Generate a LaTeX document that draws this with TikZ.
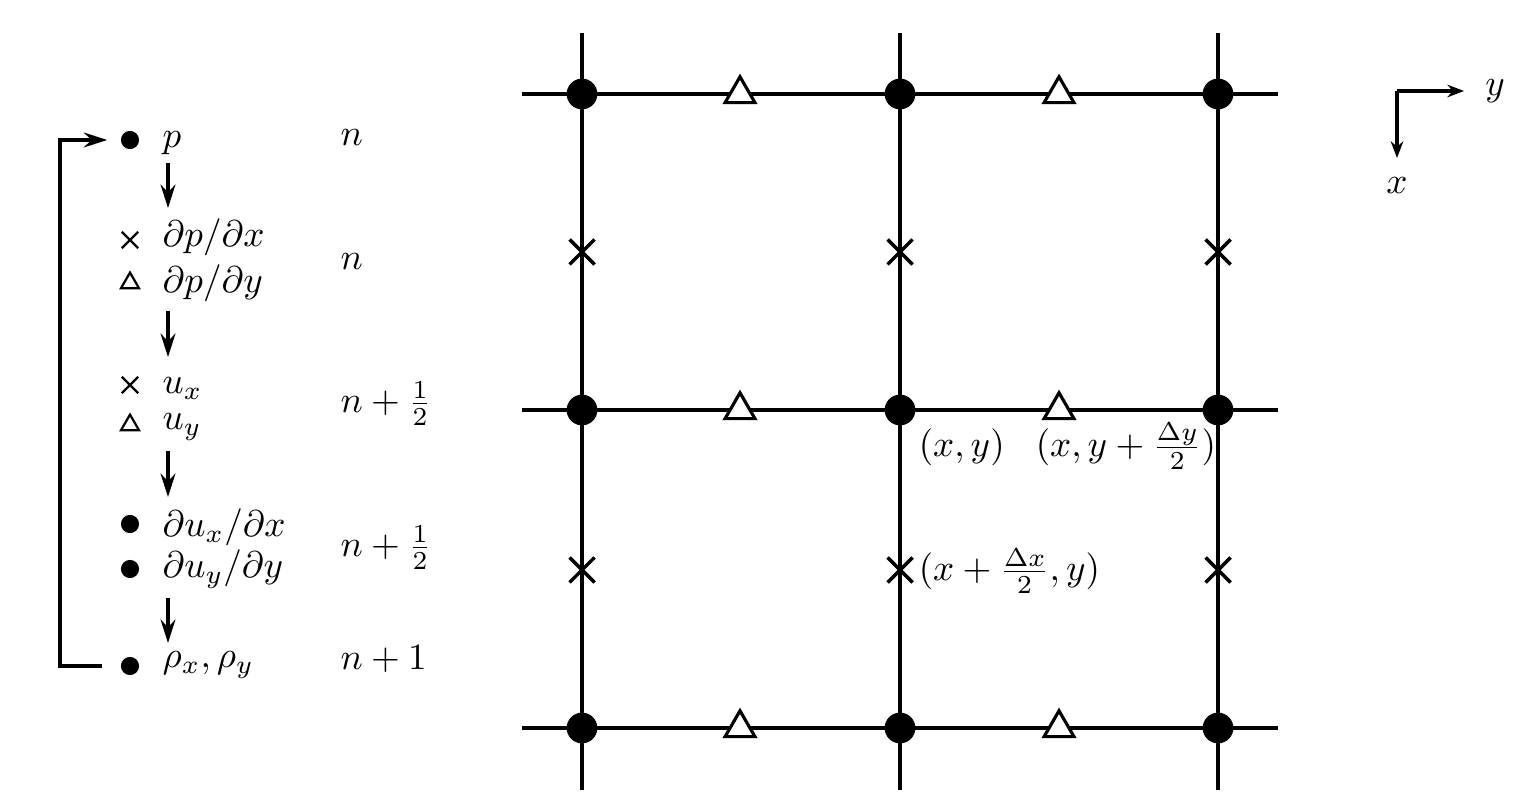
\documentclass[tikz,border=0pt]{standalone}
\usepackage{amsmath}
\usetikzlibrary{arrows.meta,shapes.geometric,shapes.misc}

\begin{document}
\begin{tikzpicture}[x=0.27pt, y=-0.27pt,
  gridline/.style={line width=1.1pt},
  bigdot/.style={circle, fill, inner sep=0pt, minimum size=8.3pt},
  bigtri/.style={regular polygon, regular polygon sides=3, draw, fill=white, line width=0.85pt, inner sep=0pt, minimum size=9.3pt},
  bigcross/.style={cross out, draw, line width=0.95pt, inner sep=0pt, minimum size=5.8pt},
  smalldot/.style={circle, fill, inner sep=0pt, minimum size=4.9pt},
  smalltri/.style={regular polygon, regular polygon sides=3, draw, line width=0.6pt, inner sep=0pt, minimum size=5.6pt},
  smallcross/.style={cross out, draw, line width=0.6pt, inner sep=0pt, minimum size=3.8pt},
  lbl/.style={inner sep=0pt, anchor=base west},
  flow/.style={-{Stealth[length=6.3pt,width=4pt]}, line width=0.95pt},
  axis/.style={-{Stealth[length=4.5pt,width=3.4pt]}, line width=0.95pt}]

  \useasboundingbox (0,0) rectangle (1529,812);

  % grid lines
  \coordinate (v1t) at (582, 33);  \coordinate (v1b) at (582, 790);
  \coordinate (v2t) at (900, 33);  \coordinate (v2b) at (900, 790);
  \coordinate (v3t) at (1218, 33); \coordinate (v3b) at (1218, 790);
  \coordinate (h1l) at (522, 94);  \coordinate (h1r) at (1278, 94);
  \coordinate (h2l) at (522, 410); \coordinate (h2r) at (1278, 410);
  \coordinate (h3l) at (522, 728); \coordinate (h3r) at (1278, 728);

  \draw [gridline] (v1t) -- (v1b);
  \draw [gridline] (v2t) -- (v2b);
  \draw [gridline] (v3t) -- (v3b);
  \draw [gridline] (h1l) -- (h1r);
  \draw [gridline] (h2l) -- (h2r);
  \draw [gridline] (h3l) -- (h3r);

  % pressure points
  \node [bigdot] (p11) at (582, 94) {};
  \node [bigdot] (p12) at (900, 94) {};
  \node [bigdot] (p13) at (1218, 94) {};
  \node [bigdot] (p21) at (582, 410) {};
  \node [bigdot] (p22) at (900, 410) {};
  \node [bigdot] (p23) at (1218, 410) {};
  \node [bigdot] (p31) at (582, 728) {};
  \node [bigdot] (p32) at (900, 728) {};
  \node [bigdot] (p33) at (1218, 728) {};

  % y-velocity points
  \node [bigtri] (t11) at (740, 94) {};
  \node [bigtri] (t12) at (1059, 94) {};
  \node [bigtri] (t21) at (740, 410) {};
  \node [bigtri] (t22) at (1059, 410) {};
  \node [bigtri] (t31) at (740, 728) {};
  \node [bigtri] (t32) at (1059, 728) {};

  % x-velocity points
  \node [bigcross] (c11) at (582, 252) {};
  \node [bigcross] (c12) at (900, 252) {};
  \node [bigcross] (c13) at (1218, 252) {};
  \node [bigcross] (c21) at (582, 570) {};
  \node [bigcross] (c22) at (900, 570) {};
  \node [bigcross] (c23) at (1218, 570) {};

  \node [lbl] (lxy) at (918, 457) {$(x,y)$};
  \node [lbl] (lxyy) at (1035, 457) {$(x,y+\frac{\Delta y}{2})$};
  \node [lbl] (lxxy) at (918, 581) {$(x+\frac{\Delta x}{2},y)$};

  % axes
  \coordinate (o) at (1397, 91);
  \coordinate (oy) at (1464, 91);
  \coordinate (ox) at (1397, 158);
  \node (ay) at (1495, 91) {$y$};
  \node (ax) at (1397, 186) {$x$};
  \draw [axis] (o) -- (oy);
  \draw [axis] (o) -- (ox);

  % update sequence
  \node [smalldot] (mp) at (130, 140) {};
  \node [smallcross] (mdpx) at (130, 240) {};
  \node [smalltri] (mdpy) at (130, 283) {};
  \node [smallcross] (mux) at (130, 385) {};
  \node [smalltri] (muy) at (130, 425) {};
  \node [smalldot] (mdux) at (130, 524) {};
  \node [smalldot] (mduy) at (130, 569) {};
  \node [smalldot] (mr) at (130, 666) {};

  \node [lbl] (p) at (162, 148) {$p$};
  \node [lbl] (dpx) at (162, 247) {$\partial p/\partial x$};
  \node [lbl] (dpy) at (162, 293) {$\partial p/\partial y$};
  \node [lbl] (ux) at (162, 394) {$u_x$};
  \node [lbl] (uy) at (162, 430) {$u_y$};
  \node [lbl] (dux) at (162, 537) {$\partial u_x/\partial x$};
  \node [lbl] (duy) at (162, 578) {$\partial u_y/\partial y$};
  \node [lbl] (r) at (162, 668) {$\rho_x,\rho_y$};

  \node [lbl] (n1) at (340, 146) {$n$};
  \node [lbl] (n2) at (340, 270) {$n$};
  \node [lbl] (n3) at (340, 413) {$n+\frac{1}{2}$};
  \node [lbl] (n4) at (340, 557) {$n+\frac{1}{2}$};
  \node [lbl] (n5) at (340, 670) {$n+1$};

  \coordinate (s1) at (168, 163); \coordinate (e1) at (168, 208);
  \coordinate (s2) at (168, 311); \coordinate (e2) at (168, 357);
  \coordinate (s3) at (168, 451); \coordinate (e3) at (168, 497);
  \coordinate (s4) at (168, 598); \coordinate (e4) at (168, 643);
  \draw [flow] (s1) -- (e1);
  \draw [flow] (s2) -- (e2);
  \draw [flow] (s3) -- (e3);
  \draw [flow] (s4) -- (e4);

  \coordinate (back) at (60, 666);
  \draw [flow, shorten <=5pt, shorten >=3.5pt] (mr.west) -- (back) |- (mp.west);

\end{tikzpicture}
\end{document}
